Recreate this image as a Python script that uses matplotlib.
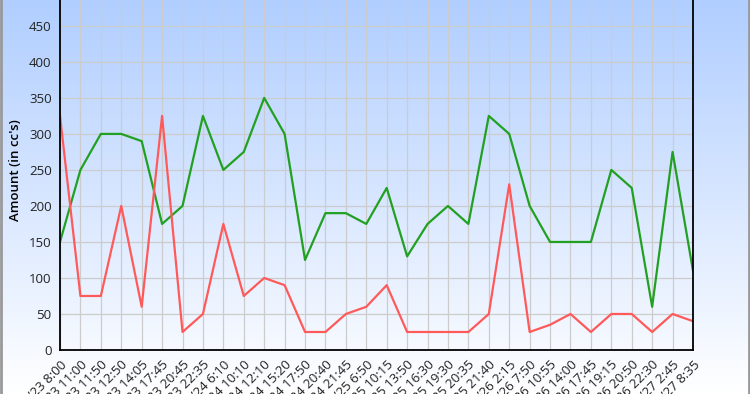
import numpy as np
import matplotlib.pyplot as plt

plt.rcParams['font.family'] = ['Open Sans', 'DejaVu Sans']

times = ['2/23 8:00', '2/23 11:00', '2/23 11:50', '2/23 12:50', '2/23 14:05', '2/23 17:45',
         '2/23 20:45', '2/23 22:35', '2/24 6:10', '2/24 10:10', '2/24 12:10', '2/24 15:20',
         '2/24 17:50', '2/24 20:40', '2/24 21:45', '2/25 6:50', '2/25 10:15', '2/25 13:50',
         '2/25 16:30', '2/25 19:30', '2/25 20:35', '2/25 21:40', '2/26 2:15', '2/26 7:50',
         '2/26 10:55', '2/26 14:00', '2/26 17:45', '2/26 19:15', '2/26 20:50', '2/26 22:30',
         '2/27 2:45', '2/27 8:35']
green_vals = [150, 250, 300, 300, 290, 175, 200, 325, 250, 275, 350, 300, 125, 190, 190, 175,
              225, 130, 175, 200, 175, 325, 300, 200, 150, 150, 150, 250, 225, 60, 275, 110]
red_vals = [325, 75, 75, 200, 60, 325, 25, 50, 175, 75, 100, 90, 25, 25, 50, 60,
            90, 25, 25, 25, 25, 50, 230, 25, 35, 50, 25, 50, 50, 25, 50, 40]

fig = plt.figure(figsize=(7.5, 3.94), dpi=100)

# gradient background
bg = fig.add_axes([0, 0, 1, 1], zorder=-10)
grad = np.linspace(0, 1, 256).reshape(-1, 1)
top = np.array([176, 206, 255]) / 255.0
bot = np.array([255, 255, 255]) / 255.0
img = top[None, None, :] * (1 - grad[:, :, None]) + bot[None, None, :] * grad[:, :, None]
bg.imshow(img, aspect='auto', extent=[0, 1, 0, 1])
bg.set_xlim(0, 1)
bg.set_ylim(0, 1)
bg.axis('off')
bg.axvline(0.0015, color='#999999', lw=2)
bg.axvline(0.9985, color='#999999', lw=2)

ax = fig.add_axes([0.08, 0.1117, 0.844, 0.914])
ax.patch.set_alpha(0)
x = np.arange(len(times))
ax.plot(x, green_vals, color='#22a022', lw=1.6)
ax.plot(x, red_vals, color='#ff5a5a', lw=1.6)

ax.set_xlim(0, len(times) - 1)
ax.set_ylim(0, 500)
ax.set_yticks(np.arange(0, 501, 50))
ax.set_xticks(x)
ax.set_xticklabels(times, rotation=45, ha='right', rotation_mode='anchor')
ax.tick_params(length=0, labelsize=9.5, colors='#222222', pad=6)
ax.grid(True, color='#cccccc', lw=0.9)
ax.set_axisbelow(True)
for s in ['left', 'bottom', 'right']:
    ax.spines[s].set_color('black')
    ax.spines[s].set_linewidth(1.3)
ax.spines['top'].set_visible(False)
ax.set_ylabel("Amount (in cc's)", fontsize=9.5, fontweight='semibold')
ax.yaxis.set_label_coords(-0.06, 0.5)

fig.savefig('out.png', dpi=100)
